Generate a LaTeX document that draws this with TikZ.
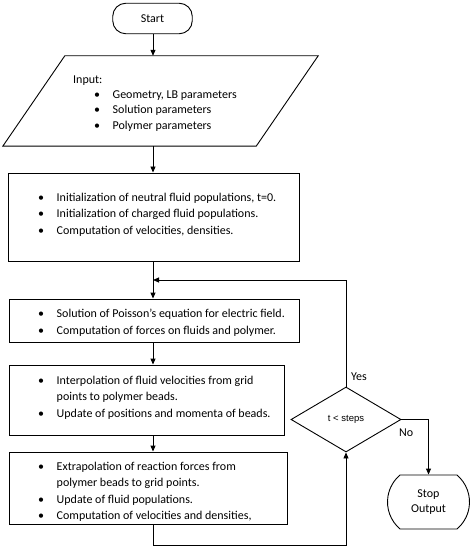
\documentclass[tikz,border=0pt]{standalone}
\usepackage{fontspec}
\setmainfont{Carlito}
\newfontfamily\arialf{Liberation Sans}
\usetikzlibrary{shapes.geometric,shapes.misc,arrows.meta,calc}
\newcommand{\bl}{\makebox[18.7pt][l]{\textbullet}}
\newcommand{\ind}{\hspace*{18.7pt}}
\begin{document}
\begin{tikzpicture}[x=1pt,y=-1pt,
  shp/.style={draw=black,line width=0.9pt},
  arr/.style={draw=black,line width=0.9pt,-{Triangle[length=6pt,width=5pt]}},
  lst/.style={anchor=base west,inner sep=0pt,font=\fontsize{12}{16.5}\selectfont},
  lbl/.style={anchor=base west,inner sep=0pt,font=\fontsize{12}{14}\selectfont},
  box/.style={shp,rectangle,inner sep=0pt}
]
\useasboundingbox (0,0) rectangle (474,548);
\coordinate (spine) at (153,0);
\coordinate (fb) at (0,280);
\coordinate (lb) at (0,545);

% Start
\node[shp,rectangle,rounded corners=13pt,minimum width=79.5pt,minimum height=30.5pt,inner sep=0pt,font=\fontsize{12}{14}\selectfont] (start) at (152.5,18.5) {Start};

% Input parallelogram
\node[minimum width=315pt,minimum height=90pt,inner sep=0pt] (input) at (160.5,101) {};
\draw[shp] (input.south west) -- ($(input.north west)+(62,0)$) -- (input.north east) -- ($(input.south east)+(-62,0)$) -- cycle;
\node[lbl] (inputlab) at (73,84) {Input:};
\node[anchor=base west,inner sep=0pt,font=\fontsize{12}{15.3}\selectfont] (inputlist) at (93.8,98.5)
  {\begin{tabular}[t]{@{}l@{}}\bl Geometry, LB parameters\\ \bl Solution parameters\\ \bl Polymer parameters\end{tabular}};

% Box 1
\node[box,minimum width=291pt,minimum height=88pt] (box1) at (153.5,217) {};
\node[lst] (box1t) at (37.8,201)
  {\begin{tabular}[t]{@{}l@{}}\bl Initialization of neutral fluid populations, t=0.\\ \bl Initialization of charged fluid populations.\\ \bl Computation of velocities, densities.\end{tabular}};

% Box 2
\node[box,minimum width=290pt,minimum height=43pt] (box2) at (154,320.5) {};
\node[lst] (box2t) at (37.8,317.5)
  {\begin{tabular}[t]{@{}l@{}}\bl Solution of Poisson’s equation for electric field.\\ \bl Computation of forces on fluids and polymer.\end{tabular}};

% Box 3
\node[box,minimum width=275pt,minimum height=70pt] (box3) at (146.5,400) {};
\node[lst] (box3t) at (37.8,384.3)
  {\begin{tabular}[t]{@{}l@{}}\bl Interpolation of fluid velocities from grid\\ \ind points to polymer beads.\\ \bl Update of positions and momenta of beads.\end{tabular}};

% Box 4
\node[box,minimum width=278pt,minimum height=72pt] (box4) at (148,488) {};
\node[lst] (box4t) at (37.8,470)
  {\begin{tabular}[t]{@{}l@{}}\bl Extrapolation of reaction forces from\\ \ind polymer beads to grid points.\\ \bl Update of fluid populations.\\ \bl Computation of velocities and densities,\end{tabular}};

% Decision
\node[shp,diamond,minimum width=110pt,minimum height=65pt,inner sep=0pt,font=\arialf\fontsize{9.5}{11}\selectfont] (dec) at (346,419.5) {t < steps};

% Stop
\node[shp,rounded rectangle,rounded rectangle arc length=100,minimum width=82pt,minimum height=54pt,inner sep=0pt,align=center,font=\fontsize{12}{14.5}\selectfont] (stop) at (428.5,502) {Stop\\Output};

% Labels
\node[lbl] (yes) at (351,380.7) {Yes};
\node[lbl] (no) at (399,436) {No};

% Connectors
\draw[arr] (spine |- start.south) -- (spine |- input.north);
\draw[arr] (spine |- input.south) -- (spine |- box1.north);
\draw[arr] (spine |- box1.south) -- (spine |- box2.north);
\draw[arr] (spine |- box2.south) -- (spine |- box3.north);
\draw[arr] (spine |- box3.south) -- (spine |- box4.north);
\draw[arr] (spine |- box4.south) -- (spine |- lb) -| (dec.south);
\draw[arr] (dec.north) |- (spine |- fb);
\draw[arr] (dec.east) -| (stop.north);
\end{tikzpicture}
\end{document}
